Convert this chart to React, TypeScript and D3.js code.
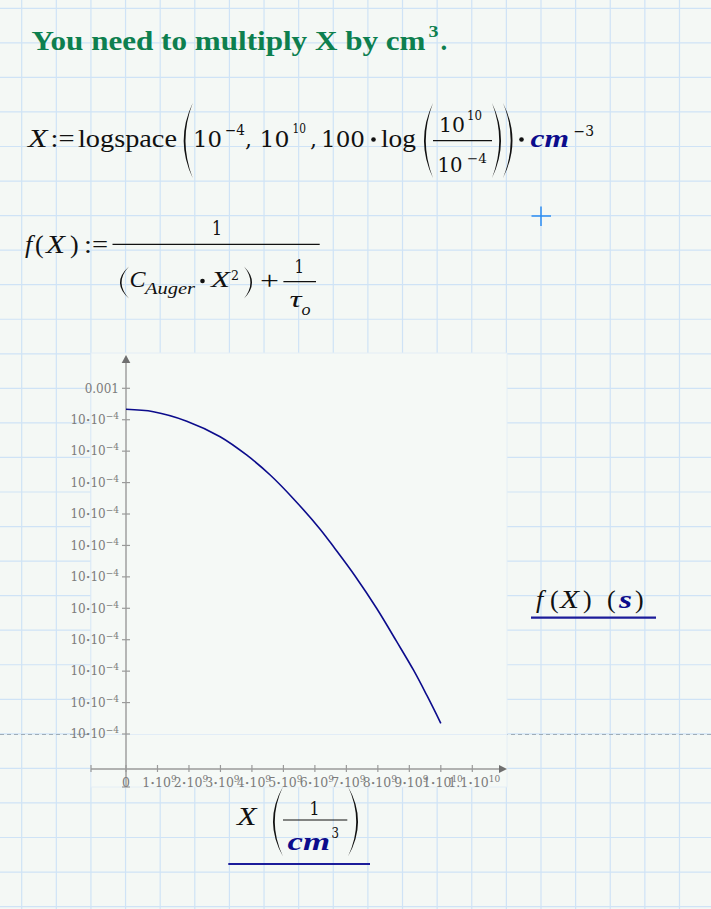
import React from "react";
import * as d3 from "d3";

// f(X) curve (X in cm^-3, f in s)
const xValues = [1e-4, 0.87e9, 1.93e9, 2.99e9, 3.83e9, 4.58e9, 5.31e9, 6.16e9, 6.64e9, 7.27e9, 7.96e9, 8.6e9, 9.13e9, 9.55e9, 1e10];
const yValues = [
  9.99332e-4, 9.99255e-4, 9.98955e-4, 9.9846e-4, 9.97878e-4, 9.97241e-4, 9.96495e-4, 9.95525e-4,
  9.94895e-4, 9.94036e-4, 9.93001e-4, 9.91938e-4, 9.91037e-4, 9.90242e-4, 9.89341e-4,
];

const xTickValues = [0, 1e9, 2e9, 3e9, 4e9, 5e9, 6e9, 7e9, 8e9, 9e9, 1e10, 1.1e10];
const xTickLabels: [string, string][] = [
  ["0", ""], ["1·10", "9"], ["2·10", "9"], ["3·10", "9"], ["4·10", "9"], ["5·10", "9"],
  ["6·10", "9"], ["7·10", "9"], ["8·10", "9"], ["9·10", "9"], ["1·10", "10"], ["1.1·10", "10"],
];
const yTickValues = [1e-3, 9.99e-4, 9.98e-4, 9.97e-4, 9.96e-4, 9.95e-4, 9.94e-4, 9.93e-4, 9.92e-4, 9.91e-4, 9.9e-4, 9.89e-4];
const yTickLabels: [string, string][] = [
  ["0.001", ""], ["10·10", "−4"], ["10·10", "−4"], ["10·10", "−4"], ["10·10", "−4"], ["10·10", "−4"],
  ["10·10", "−4"], ["10·10", "−4"], ["10·10", "−4"], ["10·10", "−4"], ["10·10", "−4"], ["10·10", "−4"],
];

const W = 711;
const H = 909;
const BG = "#f4f8f5";
const GRID = "#cfe3f6";
const NAVY = "#0c0c8c";
const AXIS = "#9a9a9a";
const TICKTXT = "#7c7c7c";
const SERIF = "'Liberation Serif', 'Times New Roman', serif";
const DSERIF = "'DejaVu Serif', serif";

// plot frame
const box = { left: 91, top: 353, right: 507, bottom: 787 };

const x = d3.scaleLinear().domain([0, 1.1e10]).range([126, 472.3]);
const y = d3.scaleLinear().domain([1e-3, 9.89e-4]).range([388.3, 734]);

const curve = d3
  .line<number>()
  .x((_, i) => x(xValues[i]))
  .y((d) => y(d))
  .curve(d3.curveCatmullRom.alpha(0.5));

// big bracket as a filled crescent
const paren = (x0: number, x1: number, top: number, bot: number, left: boolean, th = 1.8) => {
  const mid = (top + bot) / 2;
  if (left) {
    return `M${x1},${top} Q${2 * x0 - x1},${mid} ${x1},${bot} Q${2 * (x0 + th) - x1},${mid} ${x1},${top}Z`;
  }
  return `M${x0},${top} Q${2 * x1 - x0},${mid} ${x0},${bot} Q${2 * (x1 - th) - x0},${mid} ${x0},${top}Z`;
};

type TP = {
  x: number;
  y: number;
  s: number;
  t: string;
  i?: boolean;
  b?: boolean;
  c?: string;
  len?: number;
  f?: string;
};
const T = ({ x, y, s, t, i, b, c, len, f }: TP) => (
  <text
    x={x}
    y={y}
    fontSize={s}
    fontStyle={i ? "italic" : "normal"}
    fontWeight={b ? "bold" : "normal"}
    fill={c || "#111"}
    fontFamily={f || SERIF}
    textLength={len}
    lengthAdjust={len ? "spacingAndGlyphs" : undefined}
  >
    {t}
  </text>
);

const Dot = ({ cx, cy, r = 2.3 }: { cx: number; cy: number; r?: number }) => <circle cx={cx} cy={cy} r={r} fill="#111" />;

const tickLabel = (base: string, exp: string) => {
  const parts = base.split("·");
  return (
    <>
      {parts.map((p, k) => (
        <React.Fragment key={k}>
          {k > 0 && (
            <tspan fontSize={8} dy={-1}>
              •
            </tspan>
          )}
          <tspan dy={k > 0 ? 1 : 0}>{p}</tspan>
        </React.Fragment>
      ))}
      {exp && (
        <tspan fontSize={9} dy={-5}>
          {exp}
        </tspan>
      )}
    </>
  );
};

export default function App() {
  const vLines = d3.range(-1, 22).map((k) => 21.7 + k * 34.62);
  const hLines = d3.range(0, 27).map((k) => 8.3 + k * 34.55);
  return (
    <div style={{ position: "absolute", left: 0, top: 0 }}>
      <svg width={W} height={H} style={{ display: "block" }}>
        <rect width={W} height={H} fill={BG} />
        {vLines.map((v, k) => (
          <line key={"v" + k} x1={v} x2={v} y1={0} y2={H} stroke={GRID} strokeWidth={1.2} />
        ))}
        {hLines.map((h, k) => (
          <line key={"h" + k} x1={0} x2={W} y1={h} y2={h} stroke={GRID} strokeWidth={1.2} />
        ))}

        {/* page break */}
        <line x1={0} x2={W} y1={734.5} y2={734.5} stroke="#9fadb8" strokeWidth={1} strokeDasharray="4,3" />

        {/* title */}
        <T x={31.5} y={50} s={27} b c="#0d7f4f" t="You need to multiply X by cm" len={394} />
        <T x={428.5} y={37} s={16} b c="#0d7f4f" t="3" len={10} />
        <T x={440.5} y={50} s={27} b c="#0d7f4f" t="." />

        {/* X := logspace(...) */}
        <T x={28} y={147} s={25} i t="X" len={19.5} />
        <T x={50.5} y={147} s={25} t=":=" len={24} />
        <T x={78} y={147} s={26} t="logspace" len={99} />
        <path d={paren(183.7, 192.7, 103, 178, true)} fill="#111" />
        <T x={193} y={147} s={22} f={DSERIF} t="10" len={29} />
        <T x={225} y={135} s={14} f={DSERIF} t="−4" len={20} />
        <T x={245} y={147} s={22} f={DSERIF} t="," />
        <T x={259.5} y={147} s={22} f={DSERIF} t="10" len={30} />
        <T x={292.5} y={133} s={13} f={DSERIF} t="10" len={13.5} />
        <T x={310} y={147} s={22} f={DSERIF} t="," />
        <T x={321} y={147} s={22} f={DSERIF} t="100" len={44} />
        <Dot cx={373.5} cy={139.5} />
        <T x={381} y={147} s={26} t="log" len={35} />
        <path d={paren(424, 433, 103, 178, true)} fill="#111" />
        <T x={439} y={132} s={20} f={DSERIF} t="10" len={26} />
        <T x={467} y={120} s={12} f={DSERIF} t="10" len={15} />
        <line x1={433} x2={492} y1={140.7} y2={140.7} stroke="#111" strokeWidth={1.2} />
        <T x={437.5} y={172} s={20} f={DSERIF} t="10" len={25} />
        <T x={467} y={163} s={13} f={DSERIF} t="−4" len={20} />
        <path d={paren(492, 501, 103, 178, false)} fill="#111" />
        <path d={paren(503, 512.5, 103, 178, false)} fill="#111" />
        <Dot cx={521.5} cy={139.5} />
        <T x={530.5} y={147} s={26} b i c={NAVY} t="cm" len={38.5} />
        <T x={573.5} y={136} s={14} f={DSERIF} t="−3" len={20.5} />

        {/* cursor cross */}
        <line x1={531.5} x2={551} y1={216} y2={216} stroke="#2b8cf0" strokeWidth={1.5} />
        <line x1={541} x2={541} y1={206.5} y2={226} stroke="#2b8cf0" strokeWidth={1.5} />

        {/* f(X) := 1 / ((C_Auger X^2) + 1/tau_o) */}
        <T x={25} y={253} s={26} i t="f" />
        <T x={35} y={253} s={26} t="(" />
        <T x={46} y={253} s={26} i t="X" len={19} />
        <T x={70} y={253} s={26} t=")" />
        <T x={84} y={253} s={25} t=":=" len={24} />
        <line x1={112.5} x2={319.7} y1={244.3} y2={244.3} stroke="#111" strokeWidth={1.2} />
        <T x={212} y={235} s={20} f={DSERIF} t="1" len={10} />
        <path d={paren(120, 129, 266.5, 298.5, true, 1.6)} fill="#111" />
        <T x={129.5} y={287} s={24} i t="C" len={16} />
        <T x={145} y={293.5} s={16} i t="Auger" len={50} />
        <Dot cx={202.5} cy={281} />
        <T x={211} y={287} s={24} i t="X" len={19} />
        <T x={231} y={279.5} s={12} f={DSERIF} t="2" len={8} />
        <path d={paren(244, 252, 266.5, 298.5, false, 1.6)} fill="#111" />
        <T x={260} y={289} s={26} t="+" len={19} />
        <T x={294.5} y={273.3} s={18} f={DSERIF} t="1" len={9.5} />
        <line x1={283.4} x2={316} y1={281.7} y2={281.7} stroke="#111" strokeWidth={1.2} />
        <T x={289.5} y={306.7} s={24} i t="τ" len={12} />
        <T x={301.5} y={315} s={16} i t="o" len={9} />

        {/* plot frame */}
        <rect x={box.left} y={box.top} width={box.right - box.left} height={box.bottom - box.top} fill="#f5f9f6" stroke="#e4eef6" strokeWidth={1} />
        <line x1={box.left} x2={box.right} y1={734.5} y2={734.5} stroke="#e2edf7" strokeWidth={1} />

        {/* axes */}
        <line x1={x(0)} x2={x(0)} y1={box.bottom} y2={360} stroke={AXIS} strokeWidth={1.4} />
        <path d={`M${x(0)},355 L${x(0) - 4.3},363 L${x(0) + 4.3},363Z`} fill="#6f6f6f" />
        <line x1={box.left} x2={500} y1={769} y2={769} stroke={AXIS} strokeWidth={1.4} />
        <path d={`M507,769 L499,765 L499,773Z`} fill="#6f6f6f" />
        <line x1={box.left} x2={box.left} y1={765} y2={772} stroke={AXIS} strokeWidth={1.2} />
        <line x1={x(0) - 4} x2={x(0) + 4} y1={box.bottom} y2={box.bottom} stroke={AXIS} strokeWidth={1.2} />

        {yTickValues.map((v, k) => (
          <g key={"yt" + k}>
            <line x1={x(0) - 4} x2={x(0) + 4} y1={y(v)} y2={y(v)} stroke={AXIS} strokeWidth={1.2} />
            <text x={119} y={y(v) + 4.3} textAnchor="end" fontSize={12} fill={TICKTXT} fontFamily={DSERIF}>
              {tickLabel(yTickLabels[k][0], yTickLabels[k][1])}
            </text>
          </g>
        ))}
        {xTickValues.map((v, k) => (
          <g key={"xt" + k}>
            <line x1={x(v)} x2={x(v)} y1={765} y2={772} stroke={AXIS} strokeWidth={1.2} />
            <text x={x(v) + (k > 0 ? 2 : 0)} y={787} textAnchor="middle" fontSize={12.5} fill={TICKTXT} fontFamily={DSERIF}>
              {tickLabel(xTickLabels[k][0], xTickLabels[k][1])}
            </text>
          </g>
        ))}

        <path d={curve(yValues) || ""} fill="none" stroke={NAVY} strokeWidth={1.6} />

        {/* y label */}
        <T x={536} y={608.3} s={26} i t="f" />
        <T x={550} y={608.3} s={26} t="(" />
        <T x={560} y={608.3} s={26} i t="X" len={19} />
        <T x={583} y={608.3} s={26} t=")" />
        <T x={607} y={608.3} s={26} t="(" />
        <T x={619} y={608.3} s={26} b i c={NAVY} t="s" len={13} />
        <T x={635} y={608.3} s={26} t=")" />
        <line x1={531} x2={656} y1={617.7} y2={617.7} stroke="#1c1c9a" strokeWidth={2.2} />

        {/* x label */}
        <T x={237} y={825} s={25} i t="X" len={19.5} />
        <path d={paren(273, 283, 786.5, 856.5, true)} fill="#111" />
        <T x={309.5} y={815} s={19} f={DSERIF} t="1" len={10} />
        <line x1={283} x2={347.3} y1={820} y2={820} stroke="#111" strokeWidth={1.2} />
        <T x={287.5} y={850} s={26} b i c={NAVY} t="cm" len={42.5} />
        <T x={331.5} y={838} s={14} f={DSERIF} t="3" len={7.5} />
        <path d={paren(348, 358, 786.5, 856.5, false)} fill="#111" />
        <line x1={228.3} x2={370} y1={864} y2={864} stroke="#1c1c9a" strokeWidth={2.2} />
      </svg>
    </div>
  );
}
